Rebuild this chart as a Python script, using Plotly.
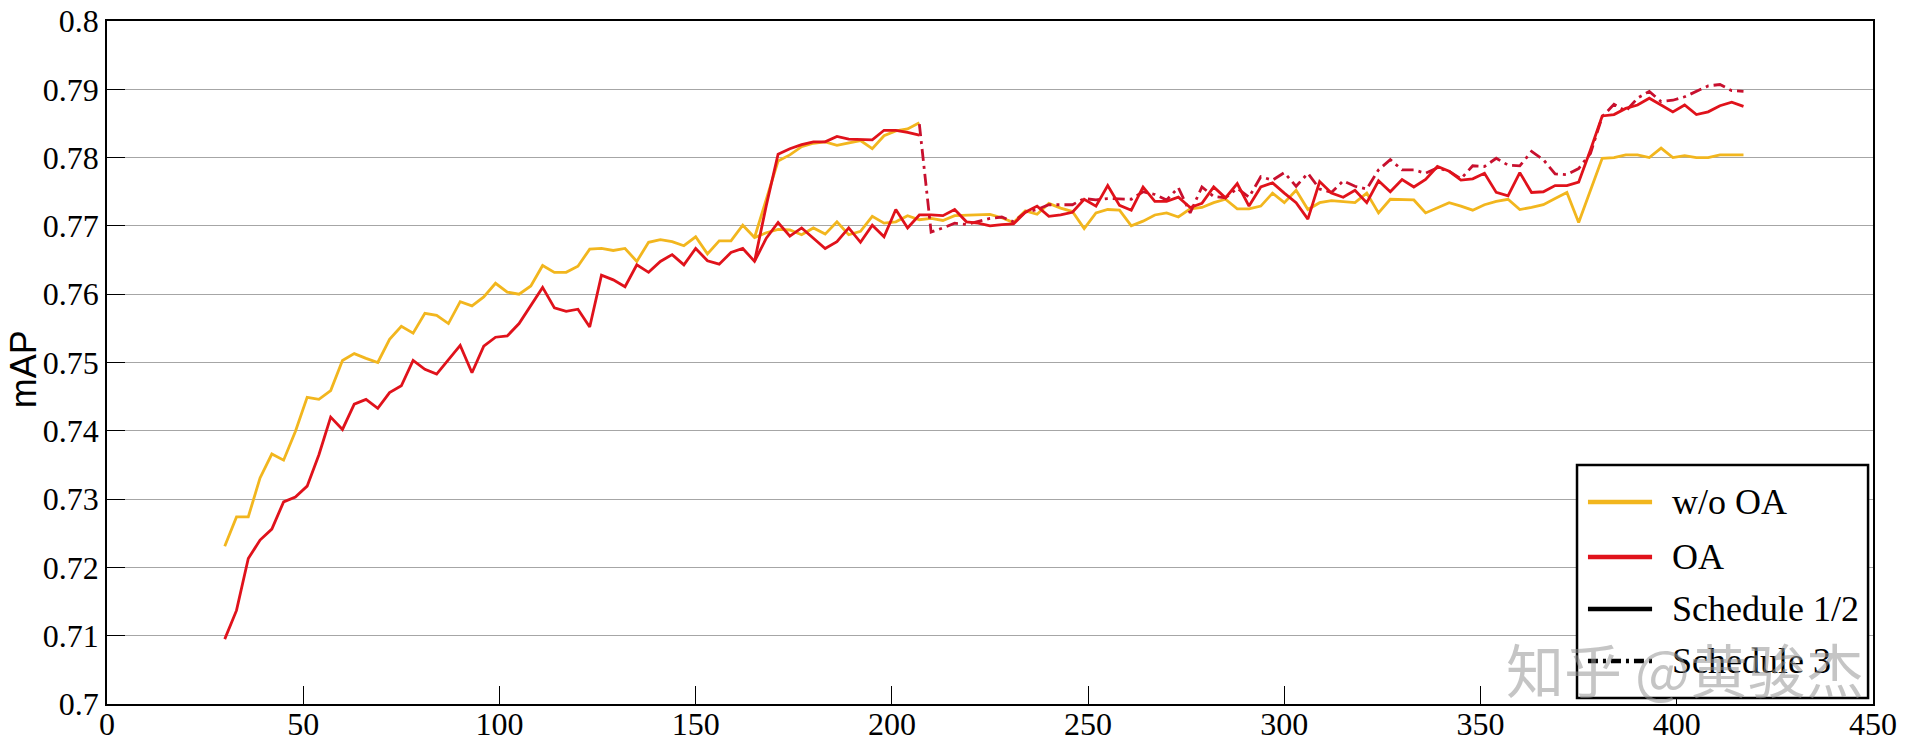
import plotly.graph_objects as go

# ---------------- data ----------------
epoch_start = 30
epoch_step = 3

wo_oa = [
    0.7231, 0.7274, 0.7274, 0.7331, 0.7366, 0.7357, 0.7399, 0.7449, 0.7446, 0.7459,
    0.7503, 0.7513, 0.7506, 0.7500, 0.7534, 0.7553, 0.7543, 0.7572, 0.7569, 0.7557,
    0.7589, 0.7583, 0.7596, 0.7616, 0.7603, 0.7600, 0.7612, 0.7642, 0.7632, 0.7632,
    0.7641, 0.7666, 0.7667, 0.7664, 0.7667, 0.7648, 0.7676, 0.7680, 0.7677, 0.7671,
    0.7684, 0.7659, 0.7678, 0.7678, 0.7701, 0.7683, 0.7690, 0.7695, 0.7694, 0.7687,
    0.7697, 0.7688, 0.7706, 0.7687, 0.7692, 0.7714, 0.7704, 0.7706, 0.7715, 0.7709,
    0.7711, 0.7708, 0.7715, 0.7716, 0.7717, 0.7717, 0.7712, 0.7705, 0.7722, 0.7717,
    0.7733, 0.7726, 0.7721, 0.7696, 0.7719, 0.7724, 0.7723, 0.7700, 0.7707, 0.7716,
    0.7719, 0.7713, 0.7725, 0.7727, 0.7734, 0.7739, 0.7725, 0.7725, 0.7729, 0.7748,
    0.7734, 0.7752, 0.7724, 0.7734, 0.7737, 0.7735, 0.7734, 0.7748, 0.7719, 0.7739,
    0.7738, 0.7738, 0.7719, 0.7726, 0.7734, 0.7729, 0.7723, 0.7731, 0.7736, 0.7739,
    0.7724, 0.7727, 0.7731, 0.7740, 0.7749, 0.7705, 0.7753, 0.7799, 0.7800, 0.7804,
    0.7804, 0.7800, 0.7814, 0.7800, 0.7803, 0.7800, 0.7800, 0.7804, 0.7804, 0.7804,
]

oa = [
    0.7095, 0.7137, 0.7213, 0.7240, 0.7256, 0.7296, 0.7303, 0.7319, 0.7365, 0.7420,
    0.7402, 0.7439, 0.7446, 0.7433, 0.7456, 0.7466, 0.7503, 0.7490, 0.7483, 0.7504,
    0.7525, 0.7485, 0.7524, 0.7537, 0.7539, 0.7557, 0.7583, 0.7610, 0.7580, 0.7575,
    0.7578, 0.7552, 0.7628, 0.7621, 0.7611, 0.7643, 0.7632, 0.7648, 0.7658, 0.7643,
    0.7667, 0.7649, 0.7644, 0.7661, 0.7667, 0.7648, 0.7682, 0.7705, 0.7685, 0.7697,
    0.7682, 0.7667, 0.7677, 0.7697, 0.7676, 0.7701, 0.7684, 0.7724, 0.7697, 0.7716,
    0.7716, 0.7715, 0.7724, 0.7706, 0.7704, 0.7700, 0.7702, 0.7703, 0.7720, 0.7729,
    0.7714, 0.7716, 0.7720, 0.7739, 0.7729, 0.7759, 0.7730, 0.7723, 0.7757, 0.7736,
    0.7736, 0.7742, 0.7727, 0.7733, 0.7757, 0.7741, 0.7762, 0.7729, 0.7757, 0.7763,
    0.7748, 0.7734, 0.7710, 0.7765, 0.7748, 0.7742, 0.7752, 0.7734, 0.7766, 0.7750,
    0.7768, 0.7757, 0.7768, 0.7787, 0.7780, 0.7767, 0.7769, 0.7777, 0.7749, 0.7744,
    0.7778, 0.7749, 0.7750, 0.7759, 0.7759, 0.7764, 0.7811, 0.7861, 0.7863, 0.7872,
    0.7877, 0.7887, 0.7877, 0.7867, 0.7877, 0.7863, 0.7867, 0.7876, 0.7881, 0.7875,
]

sched1_start = 165
wo_oa_sched1 = [0.7683, 0.7740, 0.7795, 0.7804, 0.7816, 0.7821, 0.7823, 0.7818,
                0.7822, 0.7825, 0.7813, 0.7832, 0.7839, 0.7842, 0.7851]
oa_sched1 = [0.7648, 0.7730, 0.7805, 0.7813, 0.7819, 0.7823, 0.7823, 0.7831,
             0.7827, 0.7826, 0.7826, 0.7840, 0.7840, 0.7837, 0.7833]

sched3_start = 207
oa_sched3 = [
    0.7849, 0.7691, 0.7697, 0.7704, 0.7702, 0.7707, 0.7711, 0.7713, 0.7706, 0.7720,
    0.7724, 0.7731, 0.7731, 0.7731, 0.7740, 0.7738, 0.7740, 0.7740, 0.7739, 0.7750,
    0.7746, 0.7738, 0.7756, 0.7719, 0.7757, 0.7743, 0.7741, 0.7755, 0.7742, 0.7772,
    0.7767, 0.7778, 0.7758, 0.7777, 0.7754, 0.7749, 0.7766, 0.7758, 0.7754, 0.7782,
    0.7797, 0.7782, 0.7782, 0.7777, 0.7785, 0.7780, 0.7769, 0.7788, 0.7787, 0.7799,
    0.7789, 0.7788, 0.7809, 0.7797, 0.7776, 0.7775, 0.7784, 0.7806, 0.7860, 0.7878,
    0.7868, 0.7887, 0.7897, 0.7882, 0.7884, 0.7889, 0.7897, 0.7905, 0.7907, 0.7898,
    0.7897,
]

y_tickvals = [0.7, 0.71, 0.72, 0.73, 0.74, 0.75, 0.76, 0.77, 0.78, 0.79, 0.8]
y_ticktext = ["0.7", "0.71", "0.72", "0.73", "0.74", "0.75", "0.76", "0.77", "0.78", "0.79", "0.8"]
x_tickvals = [0, 50, 100, 150, 200, 250, 300, 350, 400, 450]

legend_names = ["w/o OA", "OA", "Schedule 1/2", "Schedule 3"]
watermark = "知乎 @黄骏杰"
y_title = "mAP"


def epochs(start, n):
    return [start + epoch_step * i for i in range(n)]


YELLOW = "#F2B61E"
RED = "#E0121B"
DARKRED = "#C8102E"
LW = 2.8
DASHDOT = "12px,5px,3px,5px"
SERIF = "Liberation Serif, Times New Roman, DejaVu Serif, serif"

fig = go.Figure()

fig.add_trace(go.Scatter(x=epochs(epoch_start, len(wo_oa)), y=wo_oa, mode="lines",
                         name=legend_names[0], line=dict(color=YELLOW, width=LW)))
fig.add_trace(go.Scatter(x=epochs(sched1_start, len(wo_oa_sched1)), y=wo_oa_sched1, mode="lines",
                         name=legend_names[0] + " (" + legend_names[2] + ")",
                         line=dict(color=YELLOW, width=LW)))
fig.add_trace(go.Scatter(x=epochs(sched3_start, len(oa_sched3)), y=oa_sched3, mode="lines",
                         name=legend_names[1] + " (" + legend_names[3] + ")",
                         line=dict(color=DARKRED, width=LW, dash=DASHDOT)))
fig.add_trace(go.Scatter(x=epochs(epoch_start, len(oa)), y=oa, mode="lines",
                         name=legend_names[1], line=dict(color=RED, width=LW)))
fig.add_trace(go.Scatter(x=epochs(sched1_start, len(oa_sched1)), y=oa_sched1, mode="lines",
                         name=legend_names[1] + " (" + legend_names[2] + ")",
                         line=dict(color=RED, width=LW)))

# ---------------- legend box (drawn in paper coordinates) ----------------
box_x0, box_x1 = 0.8324, 0.9972
box_y0, box_y1 = 0.0088, 0.3499
sample_x0, sample_x1 = 0.8386, 0.8749
text_x = 0.8852
row_y = [0.2958, 0.2152, 0.1391, 0.0630]
legend_styles = [
    dict(color=YELLOW, width=4.5),
    dict(color=RED, width=4.5),
    dict(color="black", width=4.5),
    dict(color="black", width=4.5, dash="10px,5px,3px,5px"),
]

fig.add_shape(type="rect", xref="paper", yref="paper", x0=box_x0, x1=box_x1, y0=box_y0, y1=box_y1,
              line=dict(color="black", width=2.5), fillcolor="white", layer="above")
for name, st, yy in zip(legend_names, legend_styles, row_y):
    fig.add_shape(type="line", xref="paper", yref="paper", x0=sample_x0, x1=sample_x1,
                  y0=yy, y1=yy, line=st, layer="above")
    fig.add_annotation(text=name, xref="paper", yref="paper", x=text_x, y=yy,
                       xanchor="left", yanchor="middle", showarrow=False,
                       font=dict(family=SERIF, size=36, color="black"))

fig.add_annotation(text=y_title, xref="paper", yref="paper", x=-0.0476, y=0.49,
                   xanchor="center", yanchor="middle", textangle=-90, showarrow=False,
                   borderpad=0,
                   font=dict(family="Liberation Sans Narrow, Arial Narrow, Liberation Sans, sans-serif",
                             size=36, color="black"))

fig.add_annotation(text=watermark, xref="paper", yref="paper", x=0.996, y=0.052,
                   xanchor="right", yanchor="middle", showarrow=False,
                   font=dict(family="Noto Sans CJK SC", size=58, color="rgba(150,150,150,0.55)"))

fig.update_layout(
    width=1913, height=749,
    margin=dict(l=107, r=40, t=21, b=45),
    paper_bgcolor="white", plot_bgcolor="white",
    font=dict(family=SERIF, size=32, color="black"),
    showlegend=False,
)

fig.update_xaxes(range=[0, 450], tickvals=x_tickvals, ticks="inside", ticklen=18,
                 tickwidth=1.3, tickcolor="black", showline=True, linecolor="black",
                 linewidth=1.5, mirror=True, showgrid=False, zeroline=False, automargin=False,
                 ticklabelstandoff=-9,
                 tickfont=dict(family=SERIF, size=32, color="black"))
fig.update_yaxes(range=[0.7, 0.8], tickvals=y_tickvals, ticktext=y_ticktext, ticks="inside",
                 ticklen=18, tickwidth=1.3, tickcolor="black", showline=True, linecolor="black",
                 linewidth=1.5, mirror=True, showgrid=True, gridcolor="#A6A6A6", gridwidth=1,
                 zeroline=False, ticklabelstandoff=0, automargin=False,
                 tickfont=dict(family=SERIF, size=32, color="black"))

fig.write_html("out.html", config={"displayModeBar": False},
               post_script="document.body.style.margin='0';document.body.style.overflow='hidden';")
